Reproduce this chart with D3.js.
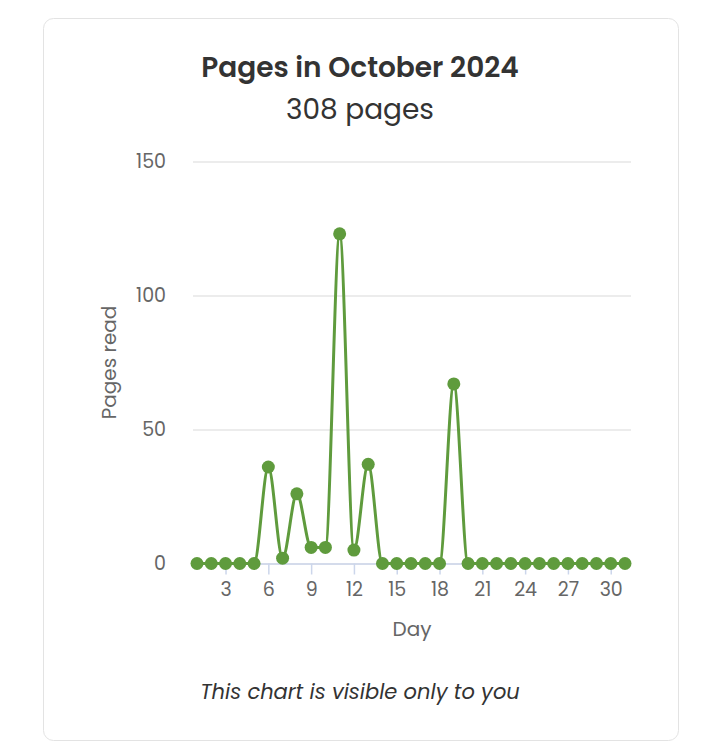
<!DOCTYPE html>
<html>
<head>
<meta charset="utf-8">
<script src="https://cdn.jsdelivr.net/npm/d3@7.9.0/dist/d3.min.js"></script>
<style>
  html, body { margin: 0; padding: 0; background: #fff; }
  svg { display: block; font-family: Poppins, Inter, "Noto Sans", sans-serif; }
</style>
</head>
<body>
<svg id="chart" width="720" height="745"></svg>
<script>
// Pages read per day, October 2024
const days = d3.range(1, 32);
const pages = [0, 0, 0, 0, 0, 36, 2, 26, 6, 6, 123, 5, 37, 0, 0, 0, 0, 0, 67, 0,
               0, 0, 0, 0, 0, 0, 0, 0, 0, 0, 0];
const yTicks = [0, 50, 100, 150];
const xTicks = [3, 6, 9, 12, 15, 18, 21, 24, 27, 30];
const title = "Pages in October 2024";
const subtitle = `${d3.sum(pages)} pages`;

const green = "#5f9b3d";
const plot = { left: 193, right: 631, top: 161.5, bottom: 563.5 };

const svg = d3.select("#chart");

// card
svg.append("rect")
  .attr("x", 43.5).attr("y", 18.5)
  .attr("width", 635).attr("height", 722)
  .attr("rx", 10)
  .attr("fill", "#fff")
  .attr("stroke", "#e3e3e3");

const xScale = d3.scaleLinear()
  .domain([1, 31])
  .range([plot.left + 4, plot.right - 6]);

const yScale = d3.scaleLinear()
  .domain([0, 150])
  .range([plot.bottom, plot.top]);

// titles
svg.append("text")
  .attr("x", 360).attr("y", 77)
  .attr("text-anchor", "middle")
  .attr("font-size", 28).attr("font-weight", 600)
  .attr("fill", "#333")
  .text(title);

svg.append("text")
  .attr("x", 360).attr("y", 119)
  .attr("text-anchor", "middle")
  .attr("font-size", 28)
  .attr("fill", "#333")
  .text(subtitle);

// gridlines + y labels
const yAxis = svg.append("g")
  .attr("transform", `translate(${plot.left},0)`)
  .call(d3.axisLeft(yScale).tickValues(yTicks)
    .tickSize(-(plot.right - plot.left)).tickPadding(27))
  .attr("font-family", null).attr("font-size", null);
yAxis.select(".domain").remove();
yAxis.selectAll(".tick line").attr("stroke", "#e6e6e6").attr("stroke-width", 1.5);
yAxis.selectAll(".tick text")
  .attr("fill", "#666").attr("font-size", 19);

// x axis
const xAxis = svg.append("g")
  .attr("transform", `translate(0,${plot.bottom})`)
  .call(d3.axisBottom(xScale).tickValues(xTicks).tickSize(11).tickPadding(8)
    .tickSizeOuter(0))
  .attr("font-family", null).attr("font-size", null);
xAxis.select(".domain")
  .attr("d", `M${plot.left},0.5H${plot.right}`)
  .attr("stroke", "#ccd6eb").attr("stroke-width", 1.5);
xAxis.selectAll(".tick line").attr("stroke", "#ccd6eb").attr("stroke-width", 1.5);
xAxis.selectAll(".tick text")
  .attr("fill", "#666").attr("font-size", 19);

// axis titles
svg.append("text")
  .attr("x", (plot.left + plot.right) / 2).attr("y", 636)
  .attr("text-anchor", "middle")
  .attr("font-size", 20).attr("fill", "#666")
  .text("Day");

svg.append("text")
  .attr("transform", `translate(116,${(plot.top + plot.bottom) / 2}) rotate(-90)`)
  .attr("text-anchor", "middle")
  .attr("font-size", 20).attr("fill", "#666")
  .text("Pages read");

// line
const series = days.map((d, i) => ({ day: d, value: pages[i] }));
const line = d3.line()
  .x(d => xScale(d.day))
  .y(d => yScale(d.value))
  .curve(d3.curveMonotoneX);

svg.append("path")
  .datum(series)
  .attr("d", line)
  .attr("fill", "none")
  .attr("stroke", green)
  .attr("stroke-width", 3);

svg.append("g")
  .selectAll("circle")
  .data(series)
  .join("circle")
  .attr("cx", d => xScale(d.day))
  .attr("cy", d => yScale(d.value))
  .attr("r", 6.5)
  .attr("fill", green);

// footer
svg.append("text")
  .attr("x", 360).attr("y", 699)
  .attr("text-anchor", "middle")
  .attr("font-size", 21).attr("font-style", "italic")
  .attr("fill", "#333")
  .text("This chart is visible only to you");
</script>
</body>
</html>
